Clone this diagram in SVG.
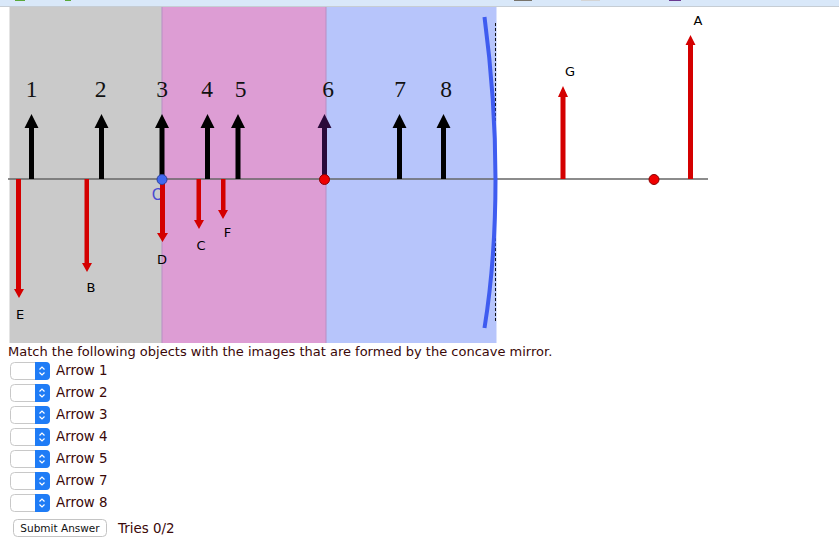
<svg xmlns="http://www.w3.org/2000/svg" width="839" height="544" viewBox="0 0 839 544">
<style>
.num{font:23.5px "Liberation Serif",serif;fill:#111;text-anchor:middle}
.let{font:13px "DejaVu Sans",sans-serif;fill:#000;text-anchor:middle}
.txt{font:13px "DejaVu Sans",sans-serif;fill:#3a0808}
.lab{font:13.400px "DejaVu Sans",sans-serif;fill:#3a0808}
.sb{fill:#fff;stroke:#c8c8c8;stroke-width:1}
.sel{fill:#1f7cf6}
.chev{fill:none;stroke:#fff;stroke-width:1.200}
.obj{fill:#000}
.img{fill:#d40000}
</style>
<defs>
<g id="select">
<rect class="sb" x="10.500" y="0.500" width="39" height="17" rx="4"/>
<path class="sel" d="M35 0h11a4 4 0 0 1 4 4v10a4 4 0 0 1-4 4H35z"/>
<path class="chev" d="M39.500 7.500l2.500-2.500 2.500 2.500M39.500 10.500l2.500 2.500 2.500-2.500"/>
</g>
<path id="up" d="M-2.500 65V14H-7L0 0L7 14H2.500V65z"/>
</defs>
<rect width="839" height="6" fill="#d9e8f9"/>
<rect y="6" width="839" height="1" fill="#c6cdd4"/>
<g id="toolbar-fragments">
<rect x="15" y="0" width="10" height="1" fill="#5aa83a"/>
<rect x="65" y="0" width="6" height="1" fill="#5aa83a"/>
<rect x="514" y="0" width="18" height="1" fill="#77736a"/>
<rect x="581" y="0" width="19" height="1" fill="#d4d4d4"/>
<rect x="669" y="0" width="12" height="1" fill="#6a3a90"/>
</g>
<g id="regions">
<rect x="9.500" y="7" width="152.500" height="336" fill="#cacaca"/>
<rect x="162" y="7" width="164" height="336" fill="#dd9dd4"/>
<rect x="326" y="7" width="170.500" height="336" fill="#b7c5fb"/>
<path d="M162 7V343M326 7V343" stroke="#b78fc4" stroke-width="1" fill="none"/>
</g>
<g id="connectors">
<path d="M8 179H708" stroke="#666" stroke-width="1.500"/>
<path d="M495.500 23V323" stroke="#111" stroke-width="1" stroke-dasharray="3 2"/>
<path d="M484.500 17Q495.500 100 495.500 179Q495.500 260 484.500 328" fill="none" stroke="#3f5cf0" stroke-width="4"/>
</g>
<text id="label-C" x="157" y="200" style="font:15px 'DejaVu Sans',sans-serif;fill:#4a4ad0" text-anchor="middle">C</text>
<g id="objects">
<use href="#up" class="obj" x="31.500" y="114"/>
<use href="#up" class="obj" x="101.500" y="114"/>
<use href="#up" class="obj" x="162" y="114"/>
<use href="#up" class="obj" x="207.500" y="114"/>
<use href="#up" class="obj" x="238" y="114"/>
<use href="#up" fill="#2a0a3a" x="324.500" y="114"/>
<use href="#up" class="obj" x="399.500" y="114"/>
<use href="#up" class="obj" x="443.500" y="114"/>
<text class="num" x="31.500" y="97">1</text>
<text class="num" x="100.500" y="97">2</text>
<text class="num" x="162" y="97">3</text>
<text class="num" x="207" y="97">4</text>
<text class="num" x="240.500" y="97">5</text>
<text class="num" x="328" y="97">6</text>
<text class="num" x="400" y="97">7</text>
<text class="num" x="446" y="97">8</text>
</g>
<g id="images">
<path class="img" d="M16 179H21V289H24L19 298L14 289H16z"/>
<path class="img" d="M84.500 179H89V263H92L87 272L82 263H84.500z"/>
<path class="img" d="M160 179H165V233H168L162.500 242L157 233H160z"/>
<path class="img" d="M196.500 179H201V220H204L199 229L194 220H196.500z"/>
<path class="img" d="M221 179H225.500V210H228L223 219L218 210H221z"/>
<path class="img" d="M560.500 179V97H558L563 86L568 97H565.500V179z"/>
<path class="img" d="M688 179V45H685.500L690.500 35L695.500 45H693V179z"/>
<text class="let" x="20" y="319">E</text>
<text class="let" x="91" y="292">B</text>
<text class="let" x="162" y="264">D</text>
<text class="let" x="201" y="250">C</text>
<text class="let" x="227.500" y="237">F</text>
<text class="let" x="570" y="76">G</text>
<text class="let" x="698" y="25">A</text>
</g>
<g id="points" stroke-width="1">
<circle id="center" cx="162" cy="179.500" r="5" fill="#4168f0" stroke="#2a3f9a"/>
<circle id="focus" cx="324.500" cy="179.500" r="5" fill="#f00000" stroke="#8a0000"/>
<circle id="virtual" cx="654" cy="179.500" r="5" fill="#f00000" stroke="#8a0000"/>
</g>
<text class="txt" x="8" y="356">Match the following objects with the images that are formed by the concave mirror.</text>
<g id="form">
<use href="#select" y="362"/><text class="lab" x="56" y="375">Arrow 1</text>
<use href="#select" y="384"/><text class="lab" x="56" y="397">Arrow 2</text>
<use href="#select" y="406"/><text class="lab" x="56" y="419">Arrow 3</text>
<use href="#select" y="428"/><text class="lab" x="56" y="441">Arrow 4</text>
<use href="#select" y="450"/><text class="lab" x="56" y="463">Arrow 5</text>
<use href="#select" y="472"/><text class="lab" x="56" y="485">Arrow 7</text>
<use href="#select" y="494"/><text class="lab" x="56" y="507">Arrow 8</text>
<rect x="13.500" y="519.500" width="93" height="17" rx="4" fill="#fff" stroke="#c4c4c4"/>
<text x="60" y="532" text-anchor="middle" style="font:10.500px 'DejaVu Sans',sans-serif;fill:#111">Submit Answer</text>
<text class="lab" x="118" y="533">Tries 0/2</text>
</g>
</svg>
